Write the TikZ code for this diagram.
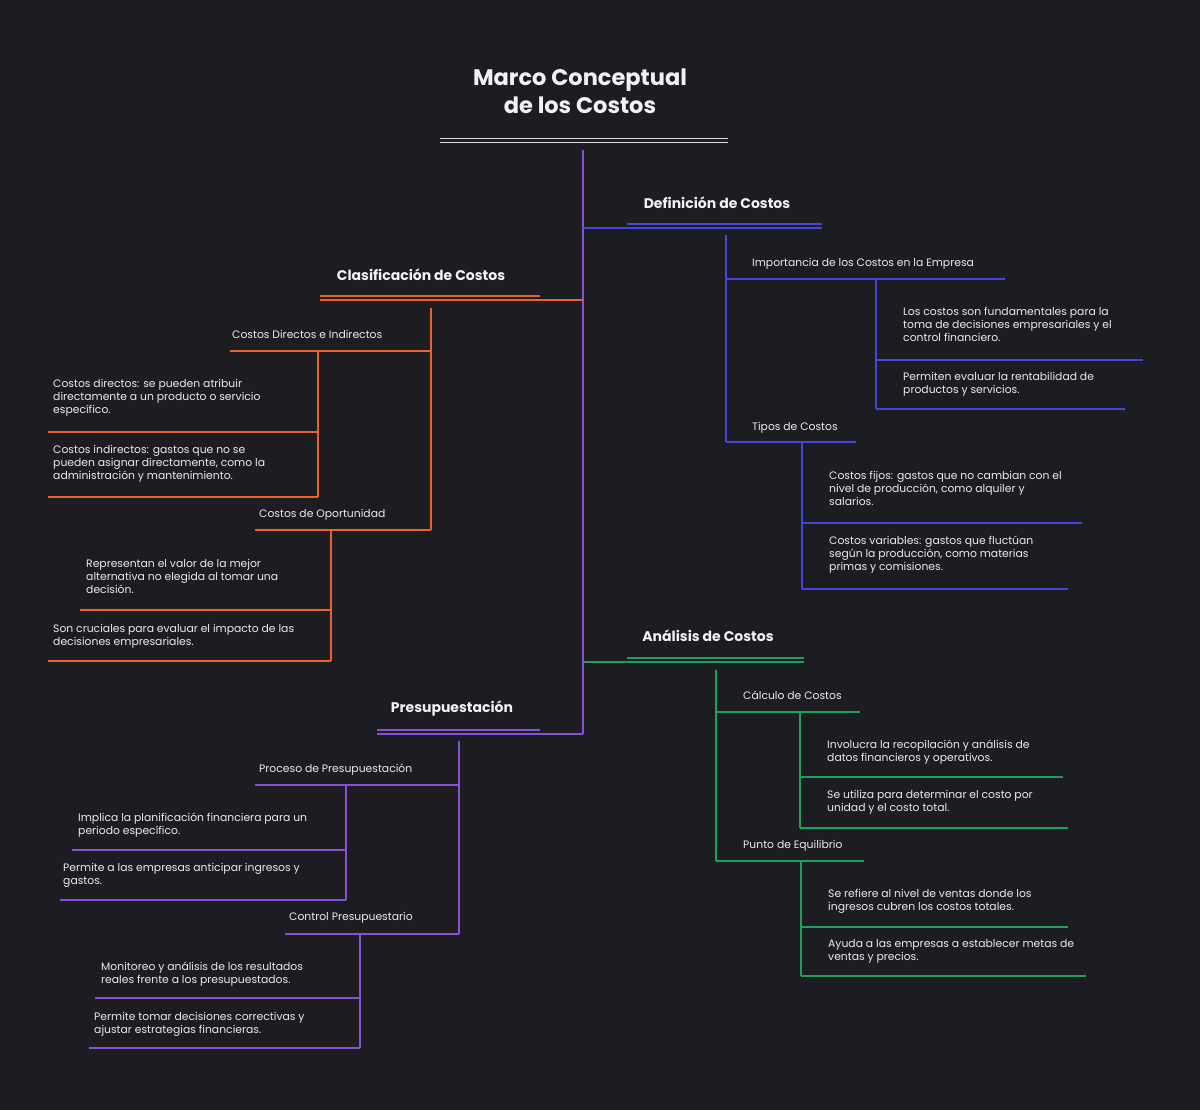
\documentclass[tikz,border=0pt]{standalone}
\usepackage{fontspec}
\setmainfont{Poppins}
\begin{document}
\begin{tikzpicture}[x=1pt,y=-1pt,
 txt/.style={text=white!92!black,font=\fontsize{10.8}{13}\selectfont,align=left,anchor=north west,inner sep=0pt},
 lab/.style={txt},
 head/.style={text=white!95!black,font=\fontsize{14}{16}\selectfont\bfseries,anchor=center,inner sep=0pt},
 ln/.style={line width=1.1pt},
 ul/.style={line width=2.6pt}]
\definecolor{bg}{HTML}{1C1D22}
\definecolor{cb}{HTML}{4646DC}
\definecolor{co}{HTML}{E8622A}
\definecolor{cg}{HTML}{1FA05A}
\definecolor{cp}{HTML}{8A4FD8}
\fill[bg] (0,0) rectangle (1200,1110);
\useasboundingbox (0,0) rectangle (1200,1110);
% title
\node[text=white!95!black,font=\fontsize{22.5}{28}\selectfont\bfseries,align=center] (title) at (580,91) {Marco Conceptual\\de los Costos};
\draw[white!85!black,line width=1pt] (440,138.5) -- (728,138.5) (440,142.5) -- (728,142.5);
% trunk
\coordinate (t0) at (583,150); \coordinate (t1) at (583,734);
\draw[cp,ln] (t0) -- (t1);
% ---------- Definicion
\node[head] (hdef) at (717,203) {Definición de Costos};
\draw[cb,ul] (627,224) -- (822,224);
\draw[cb,ln] (583,228) -- (822,228);
\draw[cb,ln] (726,235) -- (726,442);
\node[lab] (imp) at (752,258) {Importancia de los Costos en la Empresa};
\draw[cb,ln] (726,279) -- (1005,279);
\draw[cb,ln] (876,279) -- (876,409);
\node[txt] (imp1) at (903,307) {Los costos son fundamentales para la\\toma de decisiones empresariales y el\\control financiero.};
\draw[cb,ln] (876,360) -- (1143,360);
\node[txt] (imp2) at (903,372) {Permiten evaluar la rentabilidad de\\productos y servicios.};
\draw[cb,ln] (876,409) -- (1125,409);
\node[lab] (tip) at (752,422) {Tipos de Costos};
\draw[cb,ln] (726,442) -- (856,442);
\draw[cb,ln] (802,442) -- (802,589);
\node[txt] (tip1) at (829,471) {Costos fijos: gastos que no cambian con el\\nivel de producción, como alquiler y\\salarios.};
\draw[cb,ln] (802,523) -- (1082,523);
\node[txt] (tip2) at (829,536) {Costos variables: gastos que fluctúan\\según la producción, como materias\\primas y comisiones.};
\draw[cb,ln] (802,589) -- (1068,589);
% ---------- Clasificacion
\node[head] (hcla) at (421,275) {Clasificación de Costos};
\draw[co,ul] (320,296) -- (540,296);
\draw[co,ln] (320,300) -- (583,300);
\draw[co,ln] (431,308) -- (431,530);
\node[lab] (cdi) at (232,330) {Costos Directos e Indirectos};
\draw[co,ln] (230,351) -- (431,351);
\draw[co,ln] (318,351) -- (318,497);
\node[txt] (cdi1) at (53,379) {Costos directos: se pueden atribuir\\directamente a un producto o servicio\\específico.};
\draw[co,ln] (48,432) -- (318,432);
\node[txt] (cdi2) at (53,445) {Costos indirectos: gastos que no se\\pueden asignar directamente, como la\\administración y mantenimiento.};
\draw[co,ln] (48,497) -- (318,497);
\node[lab] (cop) at (259,509) {Costos de Oportunidad};
\draw[co,ln] (255,530) -- (431,530);
\draw[co,ln] (331,530) -- (331,661);
\node[txt] (cop1) at (86,559) {Representan el valor de la mejor\\alternativa no elegida al tomar una\\decisión.};
\draw[co,ln] (80,610) -- (331,610);
\node[txt] (cop2) at (53,624) {Son cruciales para evaluar el impacto de las\\decisiones empresariales.};
\draw[co,ln] (48,661) -- (331,661);
% ---------- Analisis
\node[head] (hana) at (708,636) {Análisis de Costos};
\draw[cg,ul] (627,658) -- (804,658);
\draw[cg,ln] (583,662) -- (804,662);
\draw[cg,ln] (716,670) -- (716,861);
\node[lab] (cal) at (743,691) {Cálculo de Costos};
\draw[cg,ln] (716,712) -- (860,712);
\draw[cg,ln] (800,712) -- (800,828);
\node[txt] (cal1) at (827,740) {Involucra la recopilación y análisis de\\datos financieros y operativos.};
\draw[cg,ln] (800,777) -- (1063,777);
\node[txt] (cal2) at (827,790) {Se utiliza para determinar el costo por\\unidad y el costo total.};
\draw[cg,ln] (800,828) -- (1068,828);
\node[lab] (pun) at (743,840) {Punto de Equilibrio};
\draw[cg,ln] (716,861) -- (864,861);
\draw[cg,ln] (801,861) -- (801,976);
\node[txt] (pun1) at (828,889) {Se refiere al nivel de ventas donde los\\ingresos cubren los costos totales.};
\draw[cg,ln] (801,927) -- (1068,927);
\node[txt] (pun2) at (828,939) {Ayuda a las empresas a establecer metas de\\ventas y precios.};
\draw[cg,ln] (801,976) -- (1086,976);
% ---------- Presupuestacion
\node[head] (hpre) at (452,709) {Presupuestación};
\draw[cp,ul] (377,730) -- (540,730);
\draw[cp,ln] (377,734) -- (583,734);
\draw[cp,ln] (459,741) -- (459,934);
\node[lab] (pro) at (259,764) {Proceso de Presupuestación};
\draw[cp,ln] (255,785) -- (459,785);
\draw[cp,ln] (346,785) -- (346,900);
\node[txt] (pro1) at (78,813) {Implica la planificación financiera para un\\periodo específico.};
\draw[cp,ln] (72,850) -- (346,850);
\node[txt] (pro2) at (63,863) {Permite a las empresas anticipar ingresos y\\gastos.};
\draw[cp,ln] (60,900) -- (346,900);
\node[lab] (con) at (289,912) {Control Presupuestario};
\draw[cp,ln] (285,934) -- (459,934);
\draw[cp,ln] (360,934) -- (360,1048);
\node[txt] (con1) at (101,962) {Monitoreo y análisis de los resultados\\reales frente a los presupuestados.};
\draw[cp,ln] (95,998) -- (360,998);
\node[txt] (con2) at (94,1012) {Permite tomar decisiones correctivas y\\ajustar estrategias financieras.};
\draw[cp,ln] (89,1048) -- (360,1048);
\end{tikzpicture}
\end{document}
